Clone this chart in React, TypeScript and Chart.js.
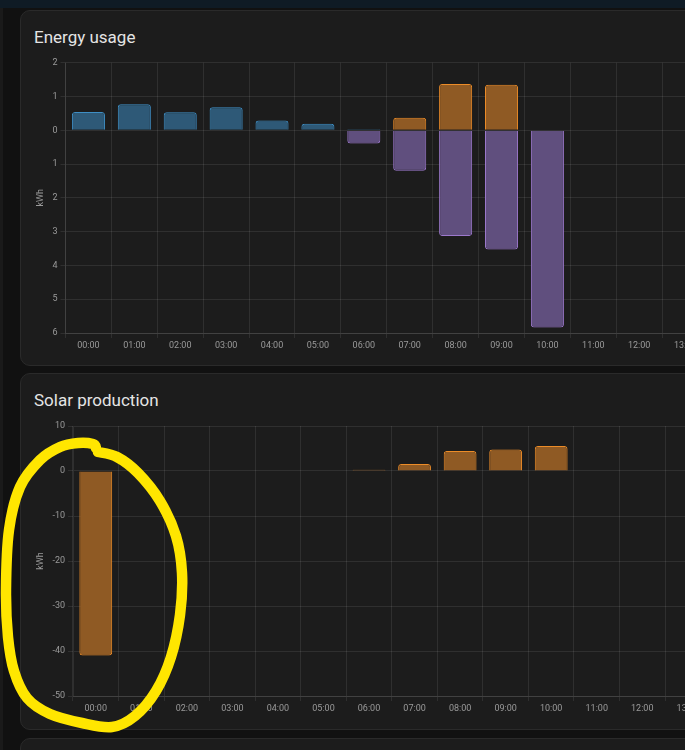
import React, { useEffect, useRef } from "react";
import { Chart, registerables } from "chart.js";

Chart.register(...registerables);

// ---------- data ----------
const hours = [
  "00:00", "01:00", "02:00", "03:00", "04:00", "05:00", "06:00", "07:00",
  "08:00", "09:00", "10:00", "11:00", "12:00", "13:00", "14:00", "15:00",
  "16:00", "17:00", "18:00", "19:00", "20:00", "21:00", "22:00", "23:00",
];
const gridConsumption = [0.54, 0.77, 0.53, 0.68, 0.29, 0.19, 0.03, null, null, null, null, null, null, null, null, null, null, null, null, null, null, null, null, null];
const solarConsumption = [null, null, null, null, null, null, null, 0.37, 1.37, 1.35, null, null, null, null, null, null, null, null, null, null, null, null, null, null];
const returnToGrid = [null, null, null, null, null, null, -0.39, -1.2, -3.13, -3.53, -5.84, null, null, null, null, null, null, null, null, null, null, null, null, null];
const solarProduction = [-41.0, null, null, null, null, null, 0.3, 1.55, 4.45, 4.8, 5.55, null, null, null, null, null, null, null, null, null, null, null, null, null];

const usageMin = -6;
const usageMax = 2;
const solarMin = -50;
const solarMax = 10;

// ---------- styles ----------
const FONT = "Roboto, 'Noto Sans', sans-serif";
const TICK = "#9a9a9a";
const GRID = "rgba(255,255,255,0.085)";
const BLUE_BG = "rgb(46,89,119)";
const BLUE_BD = "rgb(62,142,196)";
const ORANGE_BG = "rgb(143,90,36)";
const ORANGE_BD = "rgb(236,140,40)";
const PURPLE_BG = "rgb(96,79,126)";
const PURPLE_BD = "rgb(156,120,204)";

function baseOptions(yWidth: number, padTop: number, padRight: number, min: number, max: number, step: number, absLabels: boolean) {
  return {
    animation: false as const,
    responsive: false,
    maintainAspectRatio: false,
    layout: { padding: { top: padTop, left: 0, right: padRight, bottom: 0 } },
    plugins: { legend: { display: false }, tooltip: { enabled: false } },
    scales: {
      x: {
        stacked: true,
        offset: true,
        grid: { color: GRID, offset: true, tickLength: 5, drawTicks: true },
        border: { color: GRID },
        ticks: {
          color: TICK,
          font: { family: FONT, size: 9 },
          padding: 2,
          maxRotation: 0,
          autoSkip: false,
        },
        afterFit: (s: any) => { s.height = 20; },
      },
      y: {
        stacked: true,
        min,
        max,
        grid: { color: GRID, tickLength: 5 },
        border: { color: GRID },
        ticks: {
          stepSize: step,
          color: TICK,
          font: { family: FONT, size: 9 },
          padding: 3,
          callback: (v: any) => String(absLabels ? Math.abs(Number(v)) : v),
        },
        title: {
          display: true,
          text: "kWh",
          color: TICK,
          font: { family: FONT, size: 9 },
          padding: { top: 14.5, bottom: 0 },
        },
        afterFit: (s: any) => { s.width = yWidth; },
      },
    },
  };
}

function barStyle(bg: string, bd: string) {
  return {
    backgroundColor: bg,
    borderColor: bd,
    borderWidth: 1,
    borderRadius: 3,
    borderSkipped: "start" as const,
    categoryPercentage: 0.8,
    barPercentage: 0.9,
  };
}

function UsageChart() {
  const ref = useRef<HTMLCanvasElement>(null);
  useEffect(() => {
    if (!ref.current) return;
    const chart = new Chart(ref.current, {
      type: "bar",
      data: {
        labels: hours,
        datasets: [
          { label: "Grid", data: gridConsumption, stack: "s", ...barStyle(BLUE_BG, BLUE_BD) },
          { label: "Solar", data: solarConsumption, stack: "s", ...barStyle(ORANGE_BG, ORANGE_BD) },
          { label: "Return", data: returnToGrid, stack: "s", ...barStyle(PURPLE_BG, PURPLE_BD) },
        ],
      },
      options: baseOptions(44.5, 10.7, 14, usageMin, usageMax, 1, true) as any,
    });
    return () => chart.destroy();
  }, []);
  return <canvas ref={ref} width={1160} height={301} style={{ position: "absolute", left: 21, top: 52, width: 1160, height: 301 }} />;
}

function SolarChart() {
  const ref = useRef<HTMLCanvasElement>(null);
  useEffect(() => {
    if (!ref.current) return;
    const chart = new Chart(ref.current, {
      type: "bar",
      data: {
        labels: hours,
        datasets: [
          { label: "Solar production", data: solarProduction, stack: "s", ...barStyle(ORANGE_BG, ORANGE_BD) },
        ],
      },
      options: baseOptions(52, 11, 15, solarMin, solarMax, 10, false) as any,
    });
    return () => chart.destroy();
  }, []);
  return <canvas ref={ref} width={1160} height={301} style={{ position: "absolute", left: 21, top: 415, width: 1160, height: 301 }} />;
}

// hand-drawn yellow highlight ring (page coordinates)
const ringPoints: [number, number][] = [
  [98, 452], [117, 457], [138, 473], [160, 501], [176, 536], [182, 573], [180, 615],
  [171, 657], [156, 691], [135, 716], [112, 727], [82, 723], [50, 714], [27, 698],
  [14, 671], [8, 637], [6, 590], [9, 530], [20, 487], [40, 460], [60, 447],
  [78, 443], [93, 444], [96, 448],
];

function ringPath(pts: [number, number][]) {
  let d = `M ${pts[0][0]} ${pts[0][1]}`;
  for (let i = 0; i < pts.length - 1; i++) {
    const p0 = pts[Math.max(i - 1, 0)];
    const p1 = pts[i];
    const p2 = pts[i + 1];
    const p3 = pts[Math.min(i + 2, pts.length - 1)];
    const c1x = p1[0] + (p2[0] - p0[0]) / 6;
    const c1y = p1[1] + (p2[1] - p0[1]) / 6;
    const c2x = p2[0] - (p3[0] - p1[0]) / 6;
    const c2y = p2[1] - (p3[1] - p1[1]) / 6;
    d += ` C ${c1x} ${c1y}, ${c2x} ${c2y}, ${p2[0]} ${p2[1]}`;
  }
  return d;
}

const cardStyle = (top: number, height: number): React.CSSProperties => ({
  position: "absolute",
  left: 20,
  top,
  width: 1200,
  height,
  background: "#1c1c1c",
  border: "1px solid #2a2a2a",
  borderRadius: 10,
  boxSizing: "border-box",
});

const titleStyle = (top: number): React.CSSProperties => ({
  position: "absolute",
  left: 34,
  top,
  fontFamily: FONT,
  fontSize: 17,
  lineHeight: "20px",
  color: "#e4e4e4",
  whiteSpace: "nowrap",
});

export default function App() {
  return (
    <div style={{ position: "absolute", left: 0, top: 0, width: 685, height: 750, overflow: "hidden", background: "#111111" }}>
      <div style={{ position: "absolute", left: 0, top: 0, width: 685, height: 8, background: "#0f1b25" }} />
      <div style={{ position: "absolute", left: 0, top: 8, width: 3, height: 742, background: "#1a1a1a" }} />
      <div style={cardStyle(10, 356)} />
      <div style={cardStyle(373, 357)} />
      <div style={cardStyle(738, 60)} />
      <div style={titleStyle(27)}>Energy usage</div>
      <div style={titleStyle(390)}>Solar production</div>
      <UsageChart />
      <SolarChart />
      <svg width={685} height={750} style={{ position: "absolute", left: 0, top: 0, pointerEvents: "none" }}>
        <path d={ringPath(ringPoints)} fill="none" stroke="#ffe600" strokeWidth={10.5} strokeLinecap="round" strokeLinejoin="round" />
      </svg>
    </div>
  );
}
